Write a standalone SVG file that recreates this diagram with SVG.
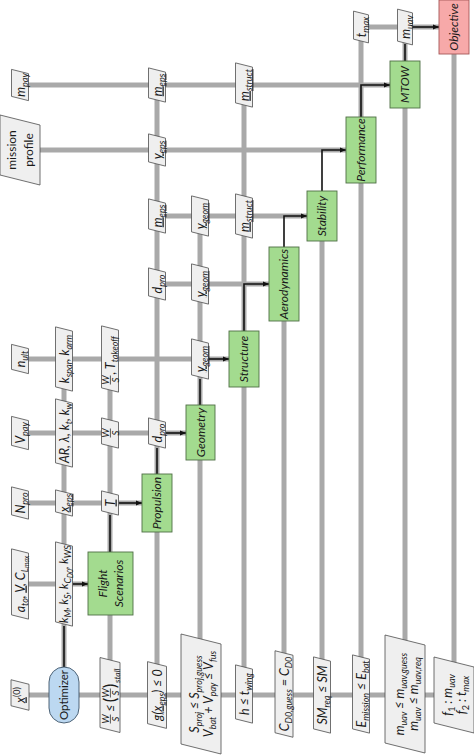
<svg xmlns="http://www.w3.org/2000/svg" width="474" height="755" viewBox="0 0 474 755">
<defs>
<style>
.g{fill:none;stroke:#a9a9a9;stroke-width:5}
.p{fill:none;stroke:#111;stroke-width:1.6}
.db{fill:#efefef;stroke:#4d4d4d;stroke-width:0.8}
.comp{fill:#a3db8f;stroke:#4f6f45;stroke-width:0.9}
.t{font-family:Lato,'Liberation Sans',sans-serif;font-size:12.5px;fill:#1a1a1a;text-anchor:middle}
.i{font-style:italic}
.n{font-style:normal}
.s{font-size:9px}
.ss{font-size:7px}
.u{text-decoration:underline}
.c{font-family:Lato,'Liberation Sans',sans-serif;font-size:12px;fill:#1a1a1a;text-anchor:middle}
.fb{stroke:#1a1a1a;stroke-width:0.7}
.fr{font-family:Lato,'Liberation Sans',sans-serif;font-size:9.5px;font-style:italic;fill:#1a1a1a;text-anchor:middle}
</style>
<marker id="ah" viewBox="0 0 6 6" refX="6" refY="3" markerWidth="6" markerHeight="6" markerUnits="userSpaceOnUse" orient="auto"><path d="M0,0.5 L6,3 L0,5.5 z" fill="#111"/></marker>
</defs>
<rect width="474" height="755" fill="#ffffff"/>

<g id="connectors">
  <g id="data-lines">
    <path class="g" d="M20,695 H454"/>
    <path class="g" d="M20,584 H88"/>
    <path class="g" d="M20,503 H142"/>
    <path class="g" d="M20,433 H186"/>
    <path class="g" d="M20,359 H229"/>
    <path class="g" d="M157,284 H269"/>
    <path class="g" d="M157,216 H307"/>
    <path class="g" d="M20,150 H346"/>
    <path class="g" d="M20,85 H390"/>
    <path class="g" d="M361,27 H439"/>
    <path class="g" d="M64,695 V359"/>
    <path class="g" d="M110,695 V359"/>
    <path class="g" d="M157,695 V85"/>
    <path class="g" d="M200,695 V216"/>
    <path class="g" d="M244,695 V85"/>
    <path class="g" d="M284,695 V284"/>
    <path class="g" d="M322,695 V216"/>
    <path class="g" d="M361,695 V27"/>
    <path class="g" d="M405,695 V27"/>
    <path class="g" d="M454,695 V27"/>
  </g>
  <g id="process-lines">
    <path class="p" d="M64,667 V626"/>
    <path class="p" d="M72.5,584 H88" marker-end="url(#ah)"/>
    <path class="p" d="M110,552 V515"/>
    <path class="p" d="M118.5,503 H142" marker-end="url(#ah)"/>
    <path class="p" d="M157,474 V448"/>
    <path class="p" d="M165.5,433 H186" marker-end="url(#ah)"/>
    <path class="p" d="M200,405 V379"/>
    <path class="p" d="M208.5,359 H229" marker-end="url(#ah)"/>
    <path class="p" d="M244,331 V284 H269" marker-end="url(#ah)"/>
    <path class="p" d="M284,247 V216 H307" marker-end="url(#ah)"/>
    <path class="p" d="M322,191 V150 H346" marker-end="url(#ah)"/>
    <path class="p" d="M361,117 V85 H390" marker-end="url(#ah)"/>
    <path class="p" d="M405,61 V44"/>
    <path class="p" d="M412.5,27 H439" marker-end="url(#ah)"/>
  </g>
</g>

<!-- components -->
<g id="optimizer">
  <rect x="49" y="667" width="30" height="56" rx="15" ry="15" fill="#bcd8f1" stroke="#3d5468" stroke-width="0.9"/>
  <g transform="translate(64,695) rotate(-90)"><text class="c" y="4.2" style="font-size:11.5px">Optimizer</text></g>
</g>
<g id="flight-scenarios">
  <rect class="comp" x="88" y="552" width="45" height="63"/>
  <g transform="translate(110.5,583.5) rotate(-90)"><text class="c i" y="-3.5">Flight</text><text class="c i" y="12.5">Scenarios</text></g>
</g>
<g id="propulsion">
  <rect class="comp" x="142" y="474" width="30" height="58"/>
  <g transform="translate(157,503) rotate(-90)"><text class="c i" y="4.2">Propulsion</text></g>
</g>
<g id="geometry">
  <rect class="comp" x="186" y="405" width="29" height="55"/>
  <g transform="translate(200.5,432.5) rotate(-90)"><text class="c i" y="4.2">Geometry</text></g>
</g>
<g id="structure">
  <rect class="comp" x="229" y="331" width="30" height="56"/>
  <g transform="translate(244,359) rotate(-90)"><text class="c i" y="4.2">Structure</text></g>
</g>
<g id="aerodynamics">
  <rect class="comp" x="269" y="247" width="30" height="74"/>
  <g transform="translate(284,284) rotate(-90)"><text class="c i" y="4.2">Aerodynamics</text></g>
</g>
<g id="stability">
  <rect class="comp" x="307" y="191" width="30" height="50"/>
  <g transform="translate(322,216) rotate(-90)"><text class="c i" y="4.2">Stability</text></g>
</g>
<g id="performance">
  <rect class="comp" x="346" y="117" width="30" height="66"/>
  <g transform="translate(361,150) rotate(-90)"><text class="c i" y="4.2">Performance</text></g>
</g>
<g id="mtow">
  <rect class="comp" x="390" y="61" width="30" height="47"/>
  <g transform="translate(405,84.5) rotate(-90)"><text class="c i" y="4.2">MTOW</text></g>
</g>
<g id="objective">
  <rect x="439" y="0" width="30" height="54" fill="#f7a9a9" stroke="#a55757" stroke-width="0.9"/>
  <g transform="translate(454,27) rotate(-90)"><text class="c i" y="4.2">Objective</text></g>
</g>

<!-- data boxes: column 0 (inputs) -->
<g id="in-x0">
  <polygon class="db" points="11,679.75 29,684.25 29,710.25 11,705.75"/>
  <g transform="translate(20,695) rotate(-90)"><text class="t i" y="4.5"><tspan class="u">x</tspan><tspan class="s n" dy="-5">(0)</tspan></text></g>
</g>
<g id="in-flight">
  <polygon class="db" points="11.5,548.875 28.5,553.125 28.5,619.125 11.5,614.875"/>
  <g transform="translate(20,584) rotate(-90)"><text class="t i" y="4.5">a<tspan class="s" dy="3">to</tspan><tspan dy="-3">, </tspan><tspan class="u">V</tspan>, C<tspan class="s" dy="3">L</tspan><tspan class="ss" dy="1.5">max</tspan></text></g>
</g>
<g id="in-npro">
  <polygon class="db" points="11.5,486.875 28.5,491.125 28.5,519.125 11.5,514.875"/>
  <g transform="translate(20,503) rotate(-90)"><text class="t i" y="4.5">N<tspan class="s" dy="3">pro</tspan></text></g>
</g>
<g id="in-vpay">
  <polygon class="db" points="11.5,416.375 28.5,420.625 28.5,449.625 11.5,445.375"/>
  <g transform="translate(20,433) rotate(-90)"><text class="t i" y="4.5">V<tspan class="s" dy="3">pay</tspan></text></g>
</g>
<g id="in-nult">
  <polygon class="db" points="11.5,344.375 28.5,348.625 28.5,373.625 11.5,369.375"/>
  <g transform="translate(20,359) rotate(-90)"><text class="t i" y="4.5">n<tspan class="s" dy="3">ult</tspan></text></g>
</g>
<g id="in-mission">
  <polygon class="db" points="0,115 40,125 40,185 0,175"/>
  <g transform="translate(20,150) rotate(-90)"><text class="t" y="-4.5" style="font-size:12px">mission</text><text class="t" y="13" style="font-size:12px">profile</text></g>
</g>
<g id="in-mpay">
  <polygon class="db" points="11.5,69.375 28.5,73.625 28.5,100.625 11.5,96.375"/>
  <g transform="translate(20,85) rotate(-90)"><text class="t i" y="4.5">m<tspan class="s" dy="3">pay</tspan></text></g>
</g>

<!-- column 1: optimizer outputs -->
<g id="opt-flight">
  <polygon class="db" points="55.5,541.875 72.5,546.125 72.5,626.125 55.5,621.875"/>
  <g transform="translate(64,584) rotate(-90)"><text class="t i" y="4.3" style="font-size:11.5px">k<tspan class="s" dy="3">M</tspan><tspan dy="-3">, k</tspan><tspan class="s" dy="3">S</tspan><tspan dy="-3">, k</tspan><tspan class="s" dy="3">C</tspan><tspan class="ss" dy="1.5">D0</tspan><tspan dy="-4.5">, k</tspan><tspan class="s" dy="3">WS</tspan></text></g>
</g>
<g id="opt-prop">
  <polygon class="db" points="55.5,489.875 72.5,494.125 72.5,516.125 55.5,511.875"/>
  <g transform="translate(64,503) rotate(-90)"><text class="t i" y="4.5"><tspan class="u">x<tspan class="s" dy="3">eps</tspan></tspan></text></g>
</g>
<g id="opt-geom">
  <polygon class="db" points="55.5,398.875 72.5,403.125 72.5,467.125 55.5,462.875"/>
  <g transform="translate(64,433) rotate(-90)"><text class="t i" y="4.5">AR, λ, k<tspan class="s" dy="3">t</tspan><tspan dy="-3">, k</tspan><tspan class="s" dy="3">w</tspan></text></g>
</g>
<g id="opt-struct">
  <polygon class="db" points="55.5,326.875 72.5,331.125 72.5,391.125 55.5,386.875"/>
  <g transform="translate(64,359) rotate(-90)"><text class="t i" y="4.5">k<tspan class="s" dy="3">spar</tspan><tspan dy="-3">, k</tspan><tspan class="s" dy="3">arm</tspan></text></g>
</g>

<!-- column 2: flight scenarios outputs -->
<g id="fs-con">
  <polygon class="db" points="100,657.5 120,662.5 120,732.5 100,727.5"/>
  <g transform="translate(110,695) rotate(-90)">
    <text class="fr" x="-24" y="-1.5">W</text><text class="fr" x="-24" y="8.5">S</text><line class="fb" x1="-28.5" y1="0.4" x2="-19.5" y2="0.4"/>
    <text class="t i" x="-13" y="4.5">≤</text>
    <text class="t n" x="-5" y="6" style="font-size:17px">(</text>
    <text class="fr" x="2" y="-1.5">W</text><text class="fr" x="2" y="8.5">S</text><line class="fb" x1="-2.5" y1="0.4" x2="6.5" y2="0.4"/>
    <text class="t n" x="9" y="6" style="font-size:17px">)</text>
    <text class="t i" x="12" y="10" style="font-size:8.5px;text-anchor:start">stall</text>
  </g>
</g>
<g id="fs-prop">
  <polygon class="db" points="101.5,490.875 118.5,495.125 118.5,515.125 101.5,510.875"/>
  <g transform="translate(110,503) rotate(-90)"><text class="t i" y="4.5"><tspan class="u">T</tspan></text></g>
</g>
<g id="fs-geom">
  <polygon class="db" points="101.5,417.875 118.5,422.125 118.5,448.125 101.5,443.875"/>
  <g transform="translate(110,433) rotate(-90)">
    <text class="fr" x="0" y="-1.5">W</text><text class="fr" x="0" y="8.5">S</text><line class="fb" x1="-4.5" y1="0.4" x2="4.5" y2="0.4"/>
  </g>
</g>
<g id="fs-struct">
  <polygon class="db" points="101.5,325.875 118.5,330.125 118.5,392.125 101.5,387.875"/>
  <g transform="translate(110,359) rotate(-90)">
    <text class="fr" x="-21" y="-1.5">W</text><text class="fr" x="-21" y="8.5">S</text><line class="fb" x1="-25.5" y1="0.4" x2="-16.5" y2="0.4"/>
    <text class="t i" x="-15.5" y="4.5" style="text-anchor:start">, T<tspan class="s" dy="3">takeoff</tspan></text>
  </g>
</g>

<!-- column 3: propulsion outputs -->
<g id="prop-con">
  <polygon class="db" points="147.5,661.625 166.5,666.375 166.5,728.375 147.5,723.625"/>
  <g transform="translate(157,695) rotate(-90)"><text class="t i" y="4.5"><tspan class="u">g</tspan>(<tspan class="u">x<tspan class="s" dy="3">eps</tspan></tspan><tspan dy="-3">) ≤ 0</tspan></text></g>
</g>
<g id="prop-geom">
  <polygon class="db" points="148.5,417.875 165.5,422.125 165.5,448.125 148.5,443.875"/>
  <g transform="translate(157,433) rotate(-90)"><text class="t i" y="4.5">d<tspan class="s" dy="3">pro</tspan></text></g>
</g>
<g id="prop-aero">
  <polygon class="db" points="148.5,267.875 165.5,272.125 165.5,300.125 148.5,295.875"/>
  <g transform="translate(157,284) rotate(-90)"><text class="t i" y="4.5">d<tspan class="s" dy="3">pro</tspan></text></g>
</g>
<g id="prop-stab">
  <polygon class="db" points="148.5,198.875 165.5,203.125 165.5,233.125 148.5,228.875"/>
  <g transform="translate(157,216) rotate(-90)"><text class="t i" y="4.5"><tspan class="u">m<tspan class="s" dy="3">eps</tspan></tspan></text></g>
</g>
<g id="prop-perf">
  <polygon class="db" points="148.5,133.875 165.5,138.125 165.5,166.125 148.5,161.875"/>
  <g transform="translate(157,150) rotate(-90)"><text class="t i" y="4.5"><tspan class="u">y<tspan class="s" dy="3">eps</tspan></tspan></text></g>
</g>
<g id="prop-mtow">
  <polygon class="db" points="148.5,67.875 165.5,72.125 165.5,102.125 148.5,97.875"/>
  <g transform="translate(157,85) rotate(-90)"><text class="t i" y="4.5"><tspan class="u">m<tspan class="s" dy="3">eps</tspan></tspan></text></g>
</g>

<!-- column 4: geometry outputs -->
<g id="geom-con">
  <polygon class="db" points="181,634 221,644 221,754 181,744"/>
  <g transform="translate(201,694) rotate(-90)">
    <text class="t i" y="-2.5">S<tspan class="s" dy="3">proj</tspan><tspan dy="-3"> ≤ S</tspan><tspan class="s" dy="3">proj,guess</tspan></text>
    <text class="t i" y="12">V<tspan class="s" dy="3">bat</tspan><tspan dy="-3"> + V</tspan><tspan class="s" dy="3">pay</tspan><tspan dy="-3"> ≤ V</tspan><tspan class="s" dy="3">fus</tspan></text>
  </g>
</g>
<g id="geom-struct">
  <polygon class="db" points="191.5,338.875 208.5,343.125 208.5,379.125 191.5,374.875"/>
  <g transform="translate(200,359) rotate(-90)"><text class="t i" y="4.5"><tspan class="u">y<tspan class="s" dy="3">geom</tspan></tspan></text></g>
</g>
<g id="geom-aero">
  <polygon class="db" points="191.5,263.875 208.5,268.125 208.5,304.125 191.5,299.875"/>
  <g transform="translate(200,284) rotate(-90)"><text class="t i" y="4.5"><tspan class="u">y<tspan class="s" dy="3">geom</tspan></tspan></text></g>
</g>
<g id="geom-stab">
  <polygon class="db" points="191.5,195.875 208.5,200.125 208.5,236.125 191.5,231.875"/>
  <g transform="translate(200,216) rotate(-90)"><text class="t i" y="4.5"><tspan class="u">y<tspan class="s" dy="3">geom</tspan></tspan></text></g>
</g>

<!-- column 5: structure outputs -->
<g id="struct-con">
  <polygon class="db" points="235.5,664.875 252.5,669.125 252.5,723.125 235.5,718.875"/>
  <g transform="translate(244,694) rotate(-90)"><text class="t i" y="4.5">h ≤ t<tspan class="s" dy="3">wing</tspan></text></g>
</g>
<g id="struct-stab">
  <polygon class="db" points="235.5,193.875 252.5,198.125 252.5,238.125 235.5,233.875"/>
  <g transform="translate(244,216) rotate(-90)"><text class="t i" y="4.5"><tspan class="u">m<tspan class="s" dy="3">struct</tspan></tspan></text></g>
</g>
<g id="struct-mtow">
  <polygon class="db" points="235.5,62.875 252.5,67.125 252.5,107.125 235.5,102.875"/>
  <g transform="translate(244,85) rotate(-90)"><text class="t i" y="4.5"><tspan class="u">m<tspan class="s" dy="3">struct</tspan></tspan></text></g>
</g>

<!-- columns 6 to 10 -->
<g id="aero-con">
  <polygon class="db" points="275,650.75 293,655.25 293,737.25 275,732.75"/>
  <g transform="translate(284,694) rotate(-90)"><text class="t i" y="4.5">C<tspan class="s" dy="3">D0,guess</tspan><tspan dy="-3"> = C</tspan><tspan class="s" dy="3">D0</tspan></text></g>
</g>
<g id="stab-con">
  <polygon class="db" points="313.5,656.875 330.5,661.125 330.5,733.125 313.5,728.875"/>
  <g transform="translate(322,695) rotate(-90)"><text class="t i" y="4.5">SM<tspan class="s" dy="3">req</tspan><tspan dy="-3"> ≤ SM</tspan></text></g>
</g>
<g id="perf-con">
  <polygon class="db" points="352.5,654.875 369.5,659.125 369.5,733.125 352.5,728.875"/>
  <g transform="translate(361,694) rotate(-90)"><text class="t i" y="4.5">E<tspan class="s" dy="3">mission</tspan><tspan dy="-3"> ≤ E</tspan><tspan class="s" dy="3">bat</tspan></text></g>
</g>
<g id="perf-obj">
  <polygon class="db" points="353.5,11.125 368.5,14.875 368.5,42.875 353.5,39.125"/>
  <g transform="translate(361,27) rotate(-90)"><text class="t i" y="4.5">t<tspan class="s" dy="3">max</tspan></text></g>
</g>
<g id="mtow-con">
  <polygon class="db" points="385,635 425,645 425,753 385,743"/>
  <g transform="translate(405,694) rotate(-90)">
    <text class="t i" y="-1.5">m<tspan class="s" dy="3">uav</tspan><tspan dy="-3"> ≤ m</tspan><tspan class="s" dy="3">uav,guess</tspan></text>
    <text class="t i" y="13">m<tspan class="s" dy="3">uav</tspan><tspan dy="-3"> ≤ m</tspan><tspan class="s" dy="3">uav,req</tspan></text>
  </g>
</g>
<g id="mtow-obj">
  <polygon class="db" points="397.5,9.125 412.5,12.875 412.5,44.875 397.5,41.125"/>
  <g transform="translate(405,27) rotate(-90)"><text class="t i" y="4.5">m<tspan class="s" dy="3">uav</tspan></text></g>
</g>
<g id="obj-con">
  <polygon class="db" points="434,657 474,667 474,733 434,723"/>
  <g transform="translate(454,695) rotate(-90)">
    <text class="t i" y="-2.5">f<tspan class="s n" dy="3">1</tspan><tspan dy="-3"> : m</tspan><tspan class="s" dy="3">uav</tspan></text>
    <text class="t i" y="12">f<tspan class="s n" dy="3">2</tspan><tspan dy="-3"> : t</tspan><tspan class="s" dy="3">max</tspan></text>
  </g>
</g>
</svg>
